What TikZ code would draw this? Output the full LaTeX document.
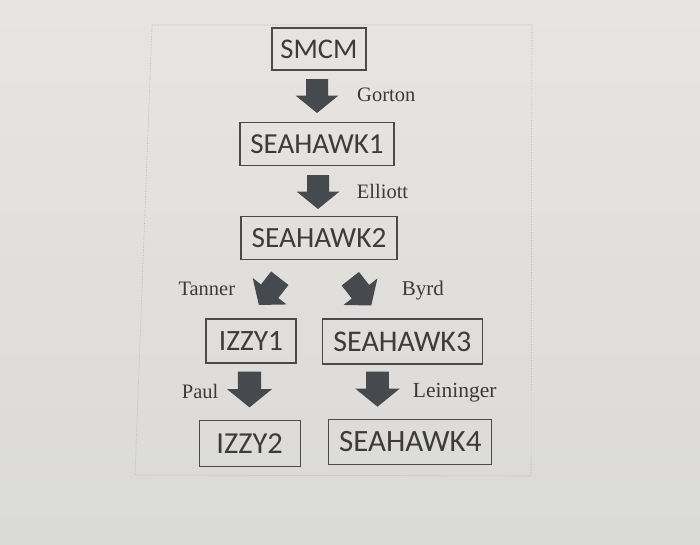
\documentclass[tikz,border=0pt]{standalone}
\usepackage{fontspec}
\newfontfamily\carlito{Carlito}
\newfontfamily\timesfont{Liberation Serif}
\definecolor{bgtop}{HTML}{E8E4E2}
\definecolor{bgbot}{HTML}{DADAD7}
\definecolor{arrowfill}{HTML}{46494D}
\definecolor{boxline}{HTML}{4A4A4A}
\definecolor{boxtext}{HTML}{3C3C3C}
\definecolor{labeltext}{HTML}{3A3A3A}
\definecolor{framecol}{HTML}{B4B4B2}
\tikzset{
  box/.style={draw=boxline, line width=1.3pt, text=boxtext, inner sep=0pt, minimum height=43pt},
  lbl/.style={anchor=base west, text=labeltext, inner sep=0pt, font=\timesfont\fontsize{20.5}{20.5}\selectfont},
  blockarrow/.pic={\fill[arrowfill] (-11,0) -- (11,0) -- (11,16.5) -- (21.5,16.5) -- (0,34) -- (-21.5,16.5) -- (-11,16.5) -- cycle;}
}
\newcommand{\boxfont}[1]{\carlito\fontsize{#1}{#1}\selectfont}
\begin{document}
\begin{tikzpicture}[x=1pt,y=-1pt]
\useasboundingbox (0,0) rectangle (700,544);
\shade[top color=bgtop, bottom color=bgbot] (0,0) rectangle (700,544);
\draw[framecol, densely dotted, line width=0.6pt] (152,25) -- (532,25) -- (531,476) -- (135,475) -- cycle;

% boxes
\node[box, minimum width=94pt, minimum height=42pt, font=\boxfont{28.5}] (smcm) at (319,49) {SMCM};
\node[box, minimum width=154pt, font=\boxfont{29}] (s1) at (317,144) {SEAHAWK1};
\node[box, minimum width=156pt, font=\boxfont{29.3}] (s2) at (319,238.3) {SEAHAWK2};
\node[box, minimum width=90pt, minimum height=44pt, font=\boxfont{29.5}] (izzy1) at (251,341) {IZZY1};
\node[box, minimum width=160pt, minimum height=45pt, font=\boxfont{30}] (s3) at (402.3,341.6) {SEAHAWK3};
\node[box, minimum width=101pt, minimum height=46pt, font=\boxfont{30.5}] (izzy2) at (249.7,443.7) {IZZY2};
\node[box, minimum width=163pt, minimum height=45pt, font=\boxfont{31}] (s4) at (410.3,441.8) {SEAHAWK4};

% block arrows
\pic (a1) at (317,79) {blockarrow};
\pic (a2) at (318,175) {blockarrow};
\pic[rotate=-38] (a3) at (279.8,278.2) {blockarrow};
\pic[rotate=38] (a4) at (350.3,278.7) {blockarrow};
\pic[scale=1.05] (a5) at (249.5,371.7) {blockarrow};
\pic[scale=1.03] (a6) at (377.5,371.7) {blockarrow};

% labels
\node[lbl] (lg) at (357,101) {Gorton};
\node[lbl] (le) at (356.7,198) {Elliott};
\node[lbl] (lt) at (178.3,295) {Tanner};
\node[lbl, font=\timesfont\fontsize{21}{21}\selectfont] (lb) at (401.7,295.5) {Byrd};
\node[lbl] (lp) at (181.7,398) {Paul};
\node[lbl, font=\timesfont\fontsize{21.5}{21.5}\selectfont] (ll) at (412.7,397.7) {Leininger};
\end{tikzpicture}
\end{document}
